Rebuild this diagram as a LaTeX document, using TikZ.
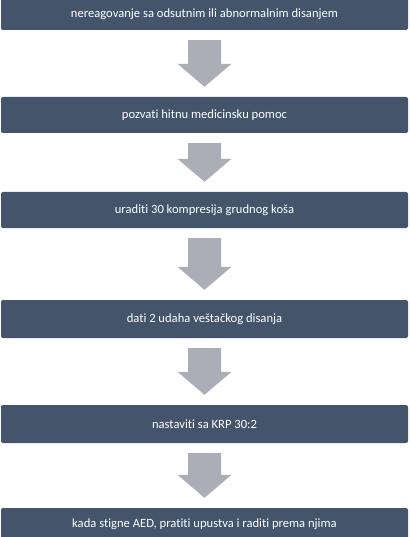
\documentclass[tikz,border=0pt]{standalone}
\usepackage{fontspec}
\setmainfont{Carlito}[Ligatures=NoCommon]
\usetikzlibrary{calc}
\definecolor{boxblue}{HTML}{44546A}
\definecolor{arrowgray}{HTML}{ABAEB6}
\tikzset{
  stepbox/.style={fill=boxblue, draw=none, rounded corners=2pt,
    minimum width=407pt, inner sep=0pt, text=white,
    font=\fontsize{12.6}{14}\selectfont},
  blockarrow/.style={fill=arrowgray, draw=none}
}
\newcommand{\flowarrow}[2]{%
  \path let \p1=($(#1.south)+(0,10)$), \p2=($(#2.north)+(0,-10)$) in
    [blockarrow] (\x1-16.5pt,\y1) -- (\x1+16.5pt,\y1) -- (\x1+16.5pt,\y2+23pt)
    -- (\x1+27pt,\y2+23pt) -- (\x1,\y2) -- (\x1-27pt,\y2+23pt)
    -- (\x1-16.5pt,\y2+23pt) -- cycle;%
}
\begin{document}
\begin{tikzpicture}[x=1pt,y=-1pt]
\useasboundingbox (0,0) rectangle (409,537);
\node[stepbox, minimum height=32pt] (b1) at (204.5,14) {nereagovanje sa odsutnim ili abnormalnim disanjem};
\node[stepbox, minimum height=36pt] (b2) at (204.5,115) {pozvati hitnu medicinsku pomoc};
\node[stepbox, minimum height=36pt] (b3) at (204.5,210) {uraditi 30 kompresija grudnog koša};
\node[stepbox, minimum height=38pt] (b4) at (204.5,319) {dati 2 udaha veštačkog disanja};
\node[stepbox, minimum height=38pt] (b5) at (204.5,424) {nastaviti sa KRP 30:2};
\node[stepbox, minimum height=32pt] (b6) at (204.5,524) {kada stigne AED, pratiti upustva i raditi prema njima};
\flowarrow{b1}{b2}
\flowarrow{b2}{b3}
\flowarrow{b3}{b4}
\flowarrow{b4}{b5}
\flowarrow{b5}{b6}
\end{tikzpicture}
\end{document}
